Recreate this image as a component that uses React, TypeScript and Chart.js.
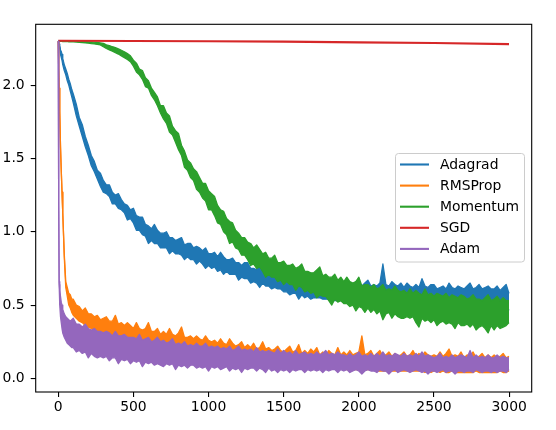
import React, { useEffect, useRef } from "react";
import { Chart, registerables } from "chart.js";

Chart.register(...registerables);

// iteration axis: dense at the start, then every 20 iterations, ending at 2999
const earlyIters = [0, 3, 6, 10, 15, 20, 25, 30, 40, 50, 60, 70, 80, 90];
const iterations = [...earlyIters, ...Array.from({ length: 145 }, (_, i) => 100 + i * 20), 2999];

// each noisy loss curve is read as the upper and lower edge of its band
const adagradHigh = [
  2.30, 2.29, 2.28, 2.27, 2.24, 2.23, 2.21, 2.18, 2.14, 2.11, 2.08, 2.04, 2.01, 1.97,
  1.94, 1.87, 1.78, 1.73, 1.65, 1.59, 1.52, 1.48, 1.42, 1.40,
  1.35, 1.32, 1.32, 1.27, 1.25, 1.26, 1.22, 1.19, 1.18, 1.15,
  1.16, 1.11, 1.10, 1.10, 1.05, 1.04, 1.02, 1.05, 1.01, 0.99,
  0.99, 1.00, 0.96, 0.96, 0.94, 0.95, 0.96, 0.91, 0.92, 0.92,
  0.89, 0.90, 0.89, 0.87, 0.89, 0.85, 0.85, 0.86, 0.83, 0.86,
  0.83, 0.81, 0.81, 0.82, 0.79, 0.79, 0.77, 0.79, 0.79, 0.75,
  0.75, 0.74, 0.77, 0.74, 0.72, 0.73, 0.72, 0.70, 0.73, 0.70,
  0.69, 0.71, 0.69, 0.67, 0.69, 0.71, 0.66, 0.66, 0.67, 0.65,
  0.66, 0.64, 0.65, 0.67, 0.64, 0.65, 0.68, 0.64, 0.65, 0.66,
  0.63, 0.65, 0.64, 0.63, 0.66, 0.64, 0.63, 0.65, 0.67, 0.63,
  0.64, 0.63, 0.65, 0.78, 0.64, 0.63, 0.66, 0.64, 0.63, 0.65,
  0.62, 0.65, 0.63, 0.62, 0.64, 0.62, 0.68, 0.63, 0.62, 0.64,
  0.64, 0.61, 0.62, 0.63, 0.61, 0.65, 0.62, 0.61, 0.63, 0.62,
  0.61, 0.63, 0.65, 0.61, 0.62, 0.64, 0.61, 0.62, 0.63, 0.61,
  0.61, 0.63, 0.60, 0.62, 0.64, 0.58,
];
const adagradLow = [
  2.30, 2.28, 2.26, 2.25, 2.21, 2.19, 2.17, 2.14, 2.10, 2.07, 2.03, 2.00, 1.96, 1.92,
  1.88, 1.79, 1.72, 1.65, 1.58, 1.52, 1.45, 1.41, 1.36, 1.31,
  1.27, 1.26, 1.24, 1.19, 1.19, 1.16, 1.15, 1.13, 1.08, 1.09,
  1.06, 1.01, 1.01, 0.98, 0.97, 0.92, 0.94, 0.92, 0.92, 0.89,
  0.89, 0.89, 0.85, 0.87, 0.85, 0.85, 0.84, 0.81, 0.83, 0.81,
  0.81, 0.78, 0.80, 0.78, 0.75, 0.77, 0.75, 0.76, 0.73, 0.74,
  0.71, 0.73, 0.71, 0.71, 0.71, 0.67, 0.69, 0.68, 0.68, 0.65,
  0.66, 0.65, 0.62, 0.65, 0.63, 0.63, 0.61, 0.62, 0.61, 0.61,
  0.59, 0.59, 0.57, 0.58, 0.58, 0.54, 0.57, 0.55, 0.56, 0.54,
  0.55, 0.55, 0.55, 0.54, 0.54, 0.54, 0.54, 0.53, 0.53, 0.53,
  0.53, 0.53, 0.52, 0.52, 0.52, 0.52, 0.52, 0.51, 0.51, 0.51,
  0.51, 0.51, 0.50, 0.50, 0.50, 0.50, 0.50, 0.49, 0.49, 0.49,
  0.49, 0.49, 0.49, 0.48, 0.48, 0.48, 0.48, 0.48, 0.47, 0.47,
  0.47, 0.47, 0.47, 0.47, 0.46, 0.46, 0.46, 0.46, 0.46, 0.45,
  0.45, 0.45, 0.45, 0.45, 0.45, 0.44, 0.44, 0.44, 0.44, 0.44,
  0.44, 0.43, 0.44, 0.43, 0.44, 0.47,
];

const rmspropHigh = [
  2.30, 2.12, 1.98, 1.82, 1.58, 1.42, 1.27, 1.13, 0.85, 0.66, 0.62, 0.58, 0.57, 0.54,
  0.54, 0.50, 0.49, 0.46, 0.48, 0.44, 0.44, 0.42, 0.43, 0.40,
  0.41, 0.42, 0.39, 0.39, 0.43, 0.37, 0.38, 0.36, 0.38, 0.36,
  0.34, 0.38, 0.34, 0.33, 0.34, 0.38, 0.32, 0.32, 0.34, 0.30,
  0.32, 0.30, 0.34, 0.30, 0.29, 0.31, 0.35, 0.28, 0.28, 0.29,
  0.27, 0.29, 0.27, 0.26, 0.29, 0.26, 0.25, 0.26, 0.24, 0.27,
  0.24, 0.23, 0.27, 0.24, 0.22, 0.23, 0.25, 0.21, 0.23, 0.21,
  0.24, 0.20, 0.21, 0.25, 0.20, 0.21, 0.19, 0.20, 0.22, 0.19,
  0.18, 0.20, 0.22, 0.18, 0.19, 0.23, 0.17, 0.19, 0.17, 0.20,
  0.18, 0.21, 0.16, 0.18, 0.16, 0.19, 0.17, 0.16, 0.21, 0.16,
  0.18, 0.16, 0.19, 0.16, 0.17, 0.18, 0.29, 0.16, 0.17, 0.19,
  0.15, 0.17, 0.19, 0.15, 0.16, 0.18, 0.15, 0.17, 0.15, 0.16,
  0.18, 0.15, 0.16, 0.19, 0.15, 0.17, 0.15, 0.18, 0.16, 0.15,
  0.16, 0.15, 0.18, 0.15, 0.17, 0.20, 0.15, 0.16, 0.15, 0.18,
  0.14, 0.16, 0.15, 0.18, 0.14, 0.15, 0.17, 0.14, 0.16, 0.14,
  0.16, 0.14, 0.15, 0.17, 0.14, 0.15,
];
const rmspropLow = [
  2.30, 2.12, 1.98, 1.82, 1.58, 1.42, 1.27, 1.13, 0.83, 0.62, 0.56, 0.50, 0.48, 0.45,
  0.43, 0.41, 0.39, 0.38, 0.36, 0.35, 0.34, 0.33, 0.32, 0.32,
  0.31, 0.31, 0.30, 0.30, 0.29, 0.28, 0.28, 0.27, 0.27, 0.26,
  0.25, 0.25, 0.24, 0.24, 0.23, 0.23, 0.23, 0.22, 0.22, 0.22,
  0.21, 0.21, 0.21, 0.20, 0.20, 0.20, 0.19, 0.19, 0.19, 0.18,
  0.18, 0.18, 0.17, 0.17, 0.16, 0.16, 0.15, 0.15, 0.15, 0.15,
  0.14, 0.14, 0.14, 0.13, 0.13, 0.13, 0.13, 0.12, 0.12, 0.12,
  0.12, 0.11, 0.11, 0.11, 0.11, 0.10, 0.10, 0.10, 0.10, 0.10,
  0.09, 0.09, 0.09, 0.09, 0.08, 0.08, 0.08, 0.08, 0.08, 0.08,
  0.08, 0.08, 0.07, 0.07, 0.07, 0.07, 0.07, 0.07, 0.07, 0.07,
  0.07, 0.06, 0.06, 0.06, 0.06, 0.06, 0.06, 0.06, 0.06, 0.06,
  0.06, 0.05, 0.05, 0.05, 0.05, 0.05, 0.05, 0.05, 0.05, 0.05,
  0.05, 0.05, 0.05, 0.05, 0.05, 0.05, 0.05, 0.04, 0.05, 0.04,
  0.05, 0.05, 0.04, 0.05, 0.04, 0.04, 0.05, 0.04, 0.04, 0.04,
  0.04, 0.04, 0.04, 0.04, 0.05, 0.04, 0.04, 0.04, 0.04, 0.04,
  0.04, 0.04, 0.05, 0.04, 0.04, 0.05,
];

const momentumHigh = [
  2.303, 2.303, 2.303, 2.303, 2.303, 2.303, 2.303, 2.303, 2.303, 2.303, 2.303, 2.302, 2.303, 2.302,
  2.302, 2.301, 2.300, 2.299, 2.298, 2.296, 2.295, 2.293, 2.291, 2.288,
  2.285, 2.275, 2.270, 2.262, 2.256, 2.247, 2.238, 2.228, 2.215, 2.200,
  2.17, 2.15, 2.11, 2.10, 2.05, 2.03, 1.98, 1.95, 1.92, 1.86,
  1.86, 1.81, 1.79, 1.72, 1.69, 1.67, 1.59, 1.55, 1.49, 1.47,
  1.43, 1.41, 1.37, 1.33, 1.33, 1.28, 1.26, 1.24, 1.18, 1.15,
  1.14, 1.09, 1.07, 1.06, 1.01, 0.99, 0.96, 0.96, 0.93, 0.92,
  0.89, 0.91, 0.88, 0.85, 0.86, 0.82, 0.82, 0.84, 0.79, 0.79,
  0.80, 0.77, 0.77, 0.78, 0.75, 0.76, 0.78, 0.73, 0.73, 0.72,
  0.72, 0.74, 0.76, 0.70, 0.71, 0.69, 0.69, 0.71, 0.67, 0.69,
  0.66, 0.69, 0.66, 0.65, 0.66, 0.69, 0.63, 0.64, 0.64, 0.62,
  0.64, 0.61, 0.62, 0.64, 0.60, 0.61, 0.60, 0.63, 0.60, 0.59,
  0.60, 0.58, 0.61, 0.58, 0.60, 0.58, 0.57, 0.61, 0.57, 0.58,
  0.56, 0.58, 0.57, 0.56, 0.58, 0.55, 0.57, 0.56, 0.55, 0.57,
  0.56, 0.54, 0.55, 0.57, 0.54, 0.54, 0.53, 0.55, 0.57, 0.53,
  0.54, 0.56, 0.53, 0.55, 0.53, 0.53,
];
const momentumLow = [
  2.301, 2.299, 2.300, 2.298, 2.299, 2.298, 2.299, 2.297, 2.298, 2.297, 2.298, 2.296, 2.297, 2.296,
  2.295, 2.294, 2.292, 2.290, 2.288, 2.286, 2.283, 2.281, 2.278, 2.274,
  2.262, 2.250, 2.240, 2.232, 2.222, 2.212, 2.200, 2.188, 2.175, 2.160,
  2.13, 2.09, 2.07, 2.04, 1.99, 1.98, 1.93, 1.90, 1.86, 1.81,
  1.77, 1.74, 1.68, 1.66, 1.61, 1.56, 1.52, 1.44, 1.42, 1.37,
  1.35, 1.29, 1.27, 1.23, 1.21, 1.15, 1.15, 1.11, 1.06, 1.05,
  1.00, 0.98, 0.92, 0.93, 0.89, 0.88, 0.84, 0.84, 0.81, 0.77,
  0.78, 0.75, 0.76, 0.73, 0.69, 0.71, 0.69, 0.69, 0.66, 0.67,
  0.64, 0.66, 0.64, 0.64, 0.60, 0.63, 0.62, 0.59, 0.60, 0.58,
  0.59, 0.55, 0.57, 0.56, 0.56, 0.53, 0.50, 0.54, 0.52, 0.53,
  0.51, 0.51, 0.49, 0.50, 0.46, 0.49, 0.48, 0.45, 0.48, 0.45,
  0.47, 0.44, 0.46, 0.40, 0.44, 0.45, 0.41, 0.44, 0.42, 0.41,
  0.41, 0.42, 0.41, 0.42, 0.38, 0.35, 0.41, 0.39, 0.40, 0.38,
  0.40, 0.36, 0.38, 0.39, 0.37, 0.38, 0.37, 0.34, 0.38, 0.36,
  0.36, 0.37, 0.35, 0.37, 0.33, 0.35, 0.36, 0.34, 0.31, 0.36,
  0.33, 0.36, 0.34, 0.35, 0.36, 0.38,
];

const adamHigh = [
  2.30, 1.20, 0.66, 0.60, 0.56, 0.52, 0.50, 0.47, 0.44, 0.42, 0.41, 0.40, 0.39, 0.40,
  0.41, 0.37, 0.37, 0.35, 0.37, 0.34, 0.33, 0.34, 0.32, 0.32,
  0.31, 0.32, 0.31, 0.29, 0.32, 0.29, 0.29, 0.30, 0.28, 0.28,
  0.28, 0.27, 0.30, 0.26, 0.27, 0.28, 0.25, 0.26, 0.28, 0.25,
  0.26, 0.24, 0.25, 0.27, 0.23, 0.24, 0.23, 0.25, 0.22, 0.23,
  0.22, 0.24, 0.22, 0.22, 0.24, 0.21, 0.22, 0.21, 0.22, 0.20,
  0.21, 0.20, 0.22, 0.19, 0.20, 0.22, 0.19, 0.20, 0.19, 0.20,
  0.18, 0.21, 0.18, 0.19, 0.18, 0.19, 0.18, 0.17, 0.20, 0.17,
  0.19, 0.17, 0.18, 0.16, 0.19, 0.16, 0.17, 0.18, 0.16, 0.17,
  0.16, 0.18, 0.16, 0.17, 0.19, 0.16, 0.17, 0.16, 0.18, 0.16,
  0.16, 0.15, 0.17, 0.15, 0.16, 0.18, 0.15, 0.16, 0.15, 0.17,
  0.15, 0.17, 0.15, 0.18, 0.15, 0.16, 0.15, 0.17, 0.16, 0.15,
  0.17, 0.15, 0.16, 0.15, 0.17, 0.15, 0.18, 0.15, 0.16, 0.15,
  0.14, 0.15, 0.17, 0.14, 0.15, 0.14, 0.16, 0.14, 0.15, 0.16,
  0.15, 0.14, 0.19, 0.14, 0.16, 0.14, 0.15, 0.14, 0.16, 0.14,
  0.14, 0.16, 0.14, 0.15, 0.14, 0.14,
];
const adamLow = [
  2.30, 1.20, 0.64, 0.50, 0.42, 0.38, 0.34, 0.31, 0.28, 0.26, 0.24, 0.23, 0.22, 0.21,
  0.21, 0.18, 0.19, 0.17, 0.18, 0.14, 0.17, 0.15, 0.14, 0.15,
  0.14, 0.15, 0.12, 0.14, 0.14, 0.10, 0.13, 0.12, 0.13, 0.10,
  0.12, 0.11, 0.12, 0.08, 0.11, 0.10, 0.11, 0.09, 0.10, 0.09,
  0.08, 0.10, 0.09, 0.10, 0.06, 0.09, 0.08, 0.09, 0.07, 0.09,
  0.09, 0.07, 0.08, 0.07, 0.08, 0.05, 0.08, 0.07, 0.08, 0.06,
  0.07, 0.08, 0.05, 0.07, 0.06, 0.07, 0.04, 0.07, 0.06, 0.07,
  0.07, 0.05, 0.07, 0.06, 0.04, 0.07, 0.05, 0.06, 0.04, 0.06,
  0.05, 0.06, 0.04, 0.06, 0.05, 0.06, 0.06, 0.04, 0.06, 0.05,
  0.06, 0.05, 0.06, 0.04, 0.06, 0.05, 0.06, 0.06, 0.04, 0.06,
  0.05, 0.06, 0.04, 0.05, 0.06, 0.05, 0.03, 0.05, 0.06, 0.05,
  0.05, 0.04, 0.06, 0.05, 0.05, 0.03, 0.05, 0.06, 0.04, 0.05,
  0.06, 0.05, 0.04, 0.05, 0.06, 0.05, 0.04, 0.05, 0.03, 0.05,
  0.05, 0.04, 0.05, 0.06, 0.04, 0.05, 0.05, 0.03, 0.05, 0.05,
  0.04, 0.05, 0.05, 0.04, 0.06, 0.05, 0.04, 0.05, 0.05, 0.04,
  0.05, 0.04, 0.05, 0.05, 0.04, 0.06,
];

const sgdIters = [0, 500, 1000, 1500, 2000, 2500, 2999];
const sgd = [2.303, 2.301, 2.299, 2.297, 2.292, 2.287, 2.280];

const seriesNames = ["Adagrad", "RMSProp", "Momentum", "SGD", "Adam"];
const seriesColors = ["#1f77b4", "#ff7f0e", "#2ca02c", "#d62728", "#9467bd"];

const xTicks = [0, 500, 1000, 1500, 2000, 2500, 3000];
const yTicks = [0, 0.5, 1.0, 1.5, 2.0];

const FONT = "'DejaVu Sans', 'Liberation Sans', sans-serif";
const FONT_SIZE = 13.9;

const toPoints = (xs: number[], ys: number[]) => xs.map((x, i) => ({ x, y: ys[i] }));

const frameLegendPlugin = {
  id: "frameLegend",
  afterDatasetsDraw(chart: any) {
    const { ctx, chartArea: a } = chart;
    ctx.save();
    ctx.strokeStyle = "#000";
    ctx.lineWidth = 1.1;
    ctx.strokeRect(a.left, a.top, a.right - a.left, a.bottom - a.top);

    const bx = 395.5, by = 153.5, bw = 129, bh = 108.5;
    ctx.beginPath();
    ctx.roundRect(bx, by, bw, bh, 3);
    ctx.fillStyle = "rgba(255,255,255,0.8)";
    ctx.fill();
    ctx.strokeStyle = "#cccccc";
    ctx.lineWidth = 1;
    ctx.stroke();

    ctx.font = `${FONT_SIZE}px ${FONT}`;
    ctx.textBaseline = "middle";
    ctx.textAlign = "left";
    seriesNames.forEach((name, i) => {
      const cy = 164.5 + i * 21.1;
      ctx.beginPath();
      ctx.strokeStyle = seriesColors[i];
      ctx.lineWidth = 2.1;
      ctx.moveTo(400, cy);
      ctx.lineTo(429, cy);
      ctx.stroke();
      ctx.fillStyle = "#000";
      ctx.fillText(name, 440, cy + 0.5);
    });
    ctx.restore();
  },
};

export default function App() {
  const canvasRef = useRef<HTMLCanvasElement | null>(null);

  useEffect(() => {
    if (!canvasRef.current) return;
    const bands: Record<string, [number[], number[]]> = {
      Adagrad: [adagradHigh, adagradLow],
      RMSProp: [rmspropHigh, rmspropLow],
      Momentum: [momentumHigh, momentumLow],
      Adam: [adamHigh, adamLow],
    };
    const datasets: any[] = [];
    seriesNames.forEach((name, i) => {
      const color = seriesColors[i];
      const order = seriesNames.length - i;
      const common = {
        borderColor: color,
        backgroundColor: color,
        pointRadius: 0,
        tension: 0,
        borderJoinStyle: "round" as const,
        order,
      };
      if (name === "SGD") {
        datasets.push({ ...common, label: name, data: toPoints(sgdIters, sgd), borderWidth: 2.1, fill: false });
      } else {
        const [hi, lo] = bands[name];
        datasets.push({ ...common, label: name, data: toPoints(iterations, hi), borderWidth: 1.3, fill: "+1" });
        datasets.push({ ...common, label: name + " (low)", data: toPoints(iterations, lo), borderWidth: 1.3, fill: false });
      }
    });

    const chart = new Chart(canvasRef.current, {
      type: "line",
      data: { datasets },
      plugins: [frameLegendPlugin],
      options: {
        animation: false,
        responsive: false,
        devicePixelRatio: 1,
        layout: { padding: { top: 24.3, right: 24.3, left: 0, bottom: 0 } },
        plugins: { legend: { display: false }, tooltip: { enabled: false } },
        scales: {
          x: {
            type: "linear",
            min: -150,
            max: 3150,
            afterBuildTicks: (s: any) => {
              s.ticks = xTicks.map((v) => ({ value: v }));
            },
            afterFit: (s: any) => {
              s.height = 38;
            },
            ticks: {
              color: "#000",
              font: { family: FONT, size: FONT_SIZE },
              padding: 2,
              maxRotation: 0,
              autoSkip: false,
              callback: (v: any) => String(v),
            },
            grid: { drawOnChartArea: false, drawTicks: true, tickLength: 5, color: "#000", lineWidth: 1.1 },
            border: { display: false },
          },
          y: {
            type: "linear",
            min: -0.093,
            max: 2.415,
            afterBuildTicks: (s: any) => {
              s.ticks = yTicks.map((v) => ({ value: v }));
            },
            afterFit: (s: any) => {
              s.width = 35.7;
            },
            ticks: {
              color: "#000",
              font: { family: FONT, size: FONT_SIZE },
              padding: 6,
              autoSkip: false,
              callback: (v: any) => Number(v).toFixed(1),
            },
            grid: { drawOnChartArea: false, drawTicks: true, tickLength: 5, color: "#000", lineWidth: 1.1 },
            border: { display: false },
          },
        },
      },
    });
    return () => chart.destroy();
  }, []);

  return (
    <div style={{ position: "absolute", left: 0, top: 0, width: 556, height: 430, background: "#fff" }}>
      <canvas ref={canvasRef} width={556} height={430} style={{ display: "block" }} />
    </div>
  );
}
